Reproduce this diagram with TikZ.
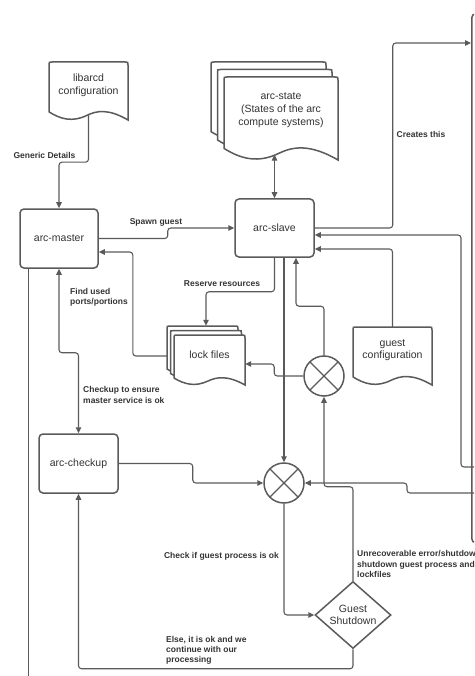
\documentclass[tikz,border=0pt]{standalone}
\usepackage{fontspec}
\setmainfont{Liberation Sans}
\usetikzlibrary{arrows.meta,shapes.geometric,calc}
\definecolor{ln}{HTML}{5A5A5A}
\definecolor{tx}{HTML}{333333}
\newcommand\mynodefont{\fontsize{10.5}{12.6}\selectfont}
\newcommand\mylblfont{\fontsize{8.5}{10.3}\selectfont\bfseries}
\tikzset{
  shapeline/.style={draw=ln, line width=1.5pt},
  conn/.style={draw=ln, line width=1.1pt, rounded corners=3pt, -{Triangle[length=6pt,width=5.5pt]}},
  dbl/.style={draw=ln, line width=1.1pt, rounded corners=3pt, {Triangle[length=6pt,width=5.5pt]}-{Triangle[length=6pt,width=5.5pt]}},
  plain/.style={draw=ln, line width=1.1pt, rounded corners=3pt},
  proc/.style={shapeline, rounded corners=4pt, inner sep=0pt, font=\mynodefont, text=tx},
  docnode/.style={inner sep=0pt, align=center, font=\mynodefont, text=tx},
  mixer/.style={shapeline, circle, minimum size=40pt, inner sep=0pt,
    path picture={\draw[ln, line width=1.1pt]
      (path picture bounding box.north west) -- (path picture bounding box.south east)
      (path picture bounding box.north east) -- (path picture bounding box.south west);}},
  lbl/.style={font=\mylblfont, text=tx, inner sep=0pt, align=left},
}
% document outline: [opts] x0 y0 w h   (y grows downward)
\newcommand\docpath[5][]{%
  \draw[shapeline,#1] ({#2},{#3+0.86*#5}) -- ({#2},{#3+3})
    .. controls ({#2},{#3}) .. ({#2+3},{#3})
    -- ({#2+#4-3},{#3}) .. controls ({#2+#4},{#3}) .. ({#2+#4},{#3+3})
    -- ({#2+#4},{#3+#5})
    .. controls ({#2+0.75*#4},{#3+0.80*#5}) and ({#2+0.6*#4},{#3+0.84*#5}) .. ({#2+0.48*#4},{#3+0.92*#5})
    .. controls ({#2+0.3*#4},{#3+1.04*#5}) and ({#2+0.15*#4},{#3+0.99*#5}) .. ({#2},{#3+0.86*#5}) -- cycle;}
\begin{document}
\begin{tikzpicture}[x=1pt,y=-1pt]
\useasboundingbox (0,0) rectangle (474,676);
\clip (0,0) rectangle (474,676);

% big box on the right (cropped)
\node[shapeline, rounded corners=4pt, minimum width=80pt, minimum height=529pt, anchor=north west, inner sep=0pt] (bigbox) at (471,13) {};
\coordinate (bb1) at (485,467);
\coordinate (bb2) at (485,493);

% libarcd configuration
\docpath{49}{62}{79}{58}
\node[docnode, minimum width=79pt, minimum height=46.4pt] (lib) at (88.5,85.2) {libarcd\\configuration};

% arc-state stack
\docpath[fill=white]{211}{62}{115}{81}
\docpath[fill=white]{217.5}{69.5}{114.5}{82}
\docpath[fill=white]{224}{77}{114}{83}
\node[docnode, minimum width=114pt, minimum height=66.4pt] (state) at (281,110.2) {arc-state\\(States of the arc\\compute systems)};

% lock files stack
\docpath[fill=white]{167}{326}{71}{50}
\docpath[fill=white]{170.5}{330.5}{71}{50}
\docpath[fill=white]{174}{335}{71}{50}
\node[docnode, minimum width=71pt, minimum height=40pt] (lock) at (209.5,355) {lock files};

% guest configuration
\docpath{353}{327}{79}{58}
\node[docnode, minimum width=79pt, minimum height=46.4pt] (gc) at (392.5,350.2) {guest\\configuration};

% processes
\node[proc, minimum width=78pt, minimum height=59pt] (master) at (59,238.5) {arc-master};
\node[proc, minimum width=79pt, minimum height=58pt] (slave) at (274.5,228) {arc-slave};
\node[proc, minimum width=79pt, minimum height=59pt] (checkup) at (78.5,463.5) {arc-checkup};

% mixers
\node[mixer] (mix1) at (324,376) {};
\node[mixer] (mix2) at (284,483) {};

% decision
\node[shapeline, diamond, aspect=1.13, minimum width=76pt, minimum height=67pt, inner sep=0pt, align=center, font=\mynodefont, text=tx] (dia) at (353,615) {Guest\\Shutdown};

% connectors
\draw[conn] ($(lib.south)+(0,6.6)$) -- ++(0,47) -| (master.north);
\draw[conn] (master.east) -- ++(69,0) |- (slave.west);
\draw[conn] (slave.east) -- ++(78,0) |- ($(bigbox.north west)+(0,30)$);
\draw[conn] (bb1) -- ++(-24,0) |- ($(slave.east)+(0,7)$);
\draw[conn] (gc.north) |- ($(slave.east)+(0,21)$);
\draw[dbl] ($(slave.north |- state.south)+(0,11)$) -- (slave.north);
\draw[conn] (slave.south) -- ++(0,34) -| ($(lock.north)+(-3.5,-9)$);
\draw[conn] ($(lock.west)+(-7,1)$) -- ++(-34,0) |- ($(master.east)+(0,13.5)$);
\draw[dbl] (master.south) -- ++(0,84) -| (checkup.north);
\draw[plain] ($(master.south west)+(9,0)$) -- ++(0,420);
\draw[conn] (checkup.east) -- ++(74,0) |- (mix2.west);
\draw[conn] (mix2.north |- slave.south) -- (mix2.north);
\draw[conn] (mix1.north) -- ++(0,-49) -| ($(slave.south)+(21.5,0)$);
\draw[conn] (mix1.west) -- ++(-29,0) |- ($(lock.east)+(0,9)$);
\draw[conn] (dia.north) -- ++(0,-94) -| (mix1.south);
\draw[conn] (bb2) -- ++(-78,0) |- (mix2.east);
\draw[conn] (mix2.south) |- (dia.west);
\draw[conn] (dia.south) -- ++(0,19.5) -| (checkup.south);

% labels
\node[lbl] (l1) at (44.5,155) {Generic Details};
\node[lbl] (l2) at (156,222) {Spawn guest};
\node[lbl] (l3) at (421,134) {Creates this};
\node[lbl] (l4) at (222,284) {Reserve resources};
\node[lbl, anchor=west] (l5) at (70,297) {Find used\\ports/portions};
\node[lbl, anchor=west] (l6) at (83,395) {Checkup to ensure\\master service is ok};
\node[lbl] (l7) at (221.5,556) {Check if guest process is ok};
\node[lbl, anchor=west] (l8) at (166,650.5) {Else, it is ok and we\\continue with our\\processing};
\node[lbl, anchor=west] (l9) at (357,564) {Unrecoverable error/shutdown\\shutdown guest process and\\lockfiles};
\end{tikzpicture}
\end{document}
